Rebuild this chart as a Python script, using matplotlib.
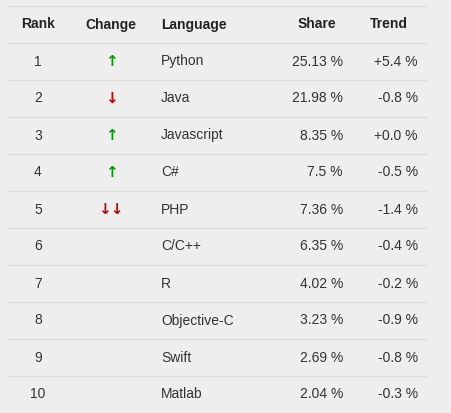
import matplotlib
matplotlib.use("Agg")
import matplotlib.pyplot as plt

ranks = [1, 2, 3, 4, 5, 6, 7, 8, 9, 10]
changes = ["up", "down", "up", "up", "down2", "", "", "", "", ""]
languages = ["Python", "Java", "Javascript", "C#", "PHP", "C/C++", "R", "Objective-C", "Swift", "Matlab"]
shares = [25.13, 21.98, 8.35, 7.5, 7.36, 6.35, 4.02, 3.23, 2.69, 2.04]
trends = ["+5.4 %", "-0.8 %", "+0.0 %", "-0.5 %", "-1.4 %", "-0.4 %", "-0.2 %", "-0.9 %", "-0.8 %", "-0.3 %"]
headers = ["Rank", "Change", "Language", "Share", "Trend"]

plt.rcParams['font.family'] = ['Liberation Sans', 'DejaVu Sans']
W, H = 452, 413
fig = plt.figure(figsize=(W/100, H/100), dpi=100, facecolor="#eeeeee")
ax = fig.add_axes([0, 0, 1, 1])
ax.set_xlim(0, W); ax.set_ylim(H, 0); ax.axis("off")

top, rh = 6, 37
txt = "#333333"
fs = 10
for i in range(len(ranks) + 2):
    y = top + i * rh
    if y <= H:
        ax.plot([8, 426], [y, y], color="#dcdcdc", lw=1)

hy = top + rh / 2
hx = [(38, "center"), (111, "center"), (161, "left"), (317, "center"), (389, "center")]
for (x, ha), h in zip(hx, headers):
    ax.text(x, hy, h, ha=ha, va="center", fontsize=fs, fontweight="bold", color="#222222")

for i, (r, c, l, s, t) in enumerate(zip(ranks, changes, languages, shares, trends)):
    y = top + rh * (i + 1) + rh / 2
    ax.text(38, y, str(r), ha="center", va="center", fontsize=fs, color=txt)
    sym = {"up": "↑", "down": "↓", "down2": "↓↓"}.get(c, "")
    col = "#009900" if c == "up" else "#cc0000"
    if sym:
        ax.text(111, y, sym, ha="center", va="center", fontsize=11, fontweight="bold",
                color=col, family="DejaVu Sans")
    ax.text(161, y, l, ha="left", va="center", fontsize=fs, color=txt)
    ax.text(343, y, f"{s} %", ha="right", va="center", fontsize=fs, color=txt)
    ax.text(418, y, t, ha="right", va="center", fontsize=fs, color=txt)

fig.savefig("out.png", dpi=100, facecolor="#eeeeee")
